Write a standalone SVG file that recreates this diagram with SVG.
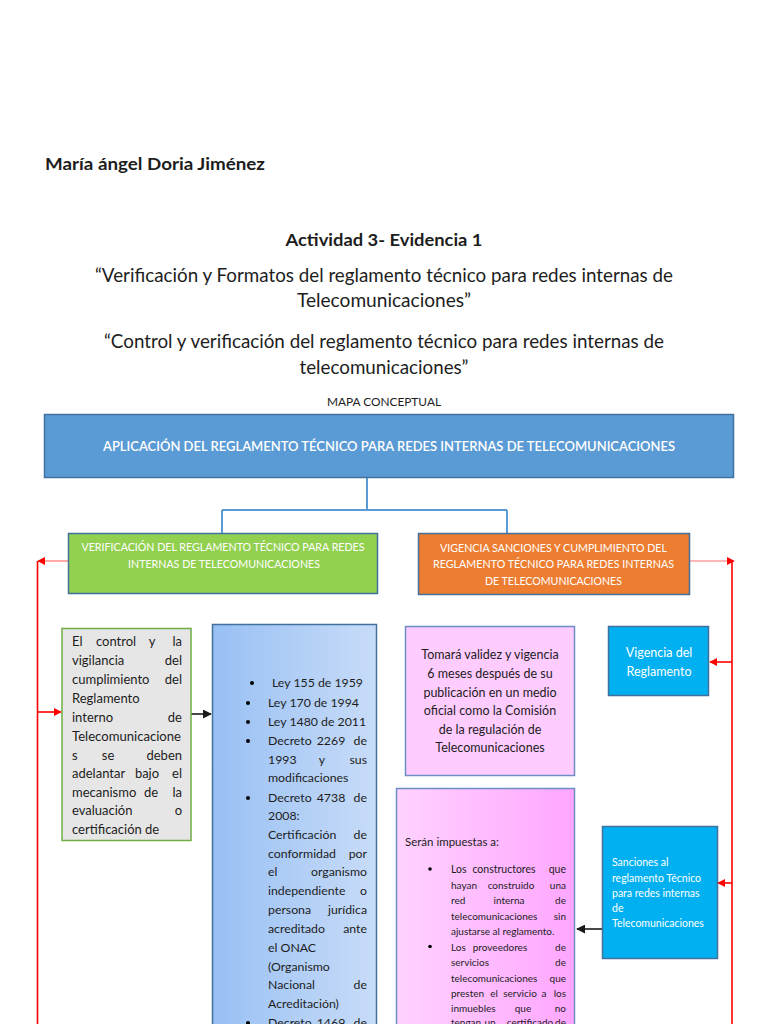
<svg xmlns="http://www.w3.org/2000/svg" width="768" height="1024" viewBox="0 0 768 1024">
<style>
text{font-family:Lato,"Liberation Sans",sans-serif;fill:#1d1d1d}
.hdr{font-size:19px}
.bold{font-weight:bold}
.w{fill:#ffffff}
.cap11{font-size:11px}
.g13{font-size:13px}
.g12{font-size:12.3px}
.p10{font-size:10px}
.e{text-anchor:end}
.m{text-anchor:middle}
.red{stroke:#ff0000;stroke-width:1.6;fill:none}
.redl{stroke:#ff7070;stroke-width:1.2;fill:none}
.blk{stroke:#1a1a1a;stroke-width:1.6;fill:none}
.bl{stroke:#5b9bd5;stroke-width:2;fill:none}
</style>
<defs>
<marker id="ar" viewBox="0 0 10 10" refX="9" refY="5" markerWidth="8" markerHeight="8" markerUnits="userSpaceOnUse" orient="auto"><path d="M0,0 L10,5 L0,10 z" fill="#ff0000"/></marker>
<marker id="ab" viewBox="0 0 10 10" refX="9" refY="5" markerWidth="9" markerHeight="9" markerUnits="userSpaceOnUse" orient="auto"><path d="M0,0 L10,5 L0,10 z" fill="#1a1a1a"/></marker>
<linearGradient id="gblue" x1="0" y1="0" x2="1" y2="0"><stop offset="0" stop-color="#98c0f4"/><stop offset="1" stop-color="#c8dcf8"/></linearGradient>
<linearGradient id="gpink" x1="0" y1="0" x2="1" y2="0"><stop offset="0" stop-color="#ffd2ff"/><stop offset="1" stop-color="#ffa6ff"/></linearGradient>
</defs>
<rect width="768" height="1024" fill="#ffffff"/>

<g id="header">
<text x="45" y="170" class="bold" font-size="17" textLength="220" lengthAdjust="spacingAndGlyphs">María ángel Doria Jiménez</text>
<text x="384" y="246" class="bold m" font-size="17" textLength="197" lengthAdjust="spacingAndGlyphs">Actividad 3- Evidencia 1</text>
<text x="384" y="282" class="hdr m" textLength="578" lengthAdjust="spacingAndGlyphs">“Verificación y Formatos del reglamento técnico para redes internas de</text>
<text x="384" y="307" class="hdr m" textLength="174" lengthAdjust="spacingAndGlyphs">Telecomunicaciones”</text>
<text x="384" y="348" class="hdr m" textLength="560" lengthAdjust="spacingAndGlyphs">“Control y verificación del reglamento técnico para redes internas de</text>
<text x="384" y="374" class="hdr m" textLength="169" lengthAdjust="spacingAndGlyphs">telecomunicaciones”</text>
<text x="384" y="406" class="m" font-size="11" textLength="114" lengthAdjust="spacingAndGlyphs">MAPA CONCEPTUAL</text>
</g>

<g id="connectors">
<path class="bl" d="M367,477 V510 M222,510 H507 M222,510 V533 M507,510 V533"/>
<path class="redl" d="M68,561 H38" marker-end="url(#ar)"/>
<path class="red" d="M37.5,561 V1024"/>
<path class="red" d="M37.5,712 H61" marker-end="url(#ar)"/>
<path class="redl" d="M689,561 H734" marker-end="url(#ar)"/>
<path class="red" d="M732,561 V1024"/>
<path class="red" d="M732,662 H710" marker-end="url(#ar)"/>
<path class="red" d="M732,883 H718" marker-end="url(#ar)"/>
<path class="blk" d="M191,714 H211" marker-end="url(#ab)"/>
<path class="blk" d="M602,929 H577" marker-end="url(#ab)"/>
</g>

<g id="n-aplicacion">
<rect x="44.5" y="414.5" width="689" height="63" fill="#5b9bd5" stroke="#41719c" stroke-width="1.5"/>
<text x="389" y="450.5" class="w m" font-size="13" font-weight="600" textLength="572" lengthAdjust="spacingAndGlyphs">APLICACIÓN DEL REGLAMENTO TÉCNICO PARA REDES INTERNAS DE TELECOMUNICACIONES</text>
</g>

<g id="n-verificacion">
<rect x="68.5" y="533.5" width="309" height="60" fill="#92d050" stroke="#41719c" stroke-width="1.5"/>
<text x="223" y="551" class="w m cap11" textLength="283" lengthAdjust="spacingAndGlyphs">VERIFICACIÓN DEL REGLAMENTO TÉCNICO PARA REDES</text>
<text x="224" y="568" class="w m cap11" textLength="192" lengthAdjust="spacingAndGlyphs">INTERNAS DE TELECOMUNICACIONES</text>
</g>

<g id="n-vigencia-sanciones">
<rect x="418.5" y="533.5" width="271" height="61" fill="#ed7d31" stroke="#41719c" stroke-width="1.5"/>
<text x="553.5" y="552" class="w m cap11" textLength="227" lengthAdjust="spacingAndGlyphs">VIGENCIA SANCIONES Y CUMPLIMIENTO DEL</text>
<text x="553.5" y="568" class="w m cap11" textLength="241" lengthAdjust="spacingAndGlyphs">REGLAMENTO TÉCNICO PARA REDES INTERNAS</text>
<text x="553.5" y="585" class="w m cap11" textLength="137" lengthAdjust="spacingAndGlyphs">DE TELECOMUNICACIONES</text>
</g>

<g id="n-control" class="g13">
<rect x="62" y="628.5" width="129" height="212" fill="#e7e6e6" stroke="#70ad47" stroke-width="1.5"/>
<text x="72" y="646">El</text><text x="96" y="646">control</text><text x="152" y="646" class="m">y</text><text x="182" y="646" class="e">la</text>
<text x="72" y="665">vigilancia</text><text x="182" y="665" class="e">del</text>
<text x="72" y="684">cumplimiento</text><text x="182" y="684" class="e">del</text>
<text x="72" y="703">Reglamento</text>
<text x="72" y="722">interno</text><text x="182" y="722" class="e">de</text>
<text x="72" y="741" textLength="109" lengthAdjust="spacingAndGlyphs">Telecomunicacione</text>
<text x="72" y="760">s</text><text x="108" y="760" class="m">se</text><text x="182" y="760" class="e">deben</text>
<text x="72" y="778">adelantar</text><text x="147" y="778" class="m">bajo</text><text x="182" y="778" class="e">el</text>
<text x="72" y="797">mecanismo</text><text x="151" y="797" class="m">de</text><text x="182" y="797" class="e">la</text>
<text x="72" y="815">evaluación</text><text x="182" y="815" class="e">o</text>
<text x="72" y="834">certificación de</text>
</g>

<g id="n-leyes" class="g12">
<rect x="212.5" y="624.5" width="164" height="410" fill="url(#gblue)" stroke="#41719c" stroke-width="1.5"/>
<circle cx="252" cy="683" r="2"/>
<text x="272" y="687">Ley 155 de 1959</text>
<circle cx="248" cy="703" r="2"/>
<text x="268" y="707">Ley 170 de 1994</text>
<circle cx="248" cy="722" r="2"/>
<text x="268" y="726">Ley 1480 de 2011</text>
<circle cx="248" cy="741" r="2"/>
<text x="268" y="745">Decreto</text><text x="331" y="745" class="m">2269</text><text x="367" y="745" class="e">de</text>
<text x="268" y="764">1993</text><text x="322" y="764" class="m">y</text><text x="367" y="764" class="e">sus</text>
<text x="268" y="782">modificaciones</text>
<circle cx="248" cy="798" r="2"/>
<text x="268" y="802">Decreto</text><text x="331" y="802" class="m">4738</text><text x="367" y="802" class="e">de</text>
<text x="268" y="820">2008:</text>
<text x="268" y="839">Certificación</text><text x="367" y="839" class="e">de</text>
<text x="268" y="858">conformidad</text><text x="367" y="858" class="e">por</text>
<text x="268" y="876">el</text><text x="367" y="876" class="e">organismo</text>
<text x="268" y="895">independiente</text><text x="367" y="895" class="e">o</text>
<text x="268" y="914">persona</text><text x="367" y="914" class="e">jurídica</text>
<text x="268" y="933">acreditado</text><text x="367" y="933" class="e">ante</text>
<text x="268" y="952">el ONAC</text>
<text x="268" y="971">(Organismo</text>
<text x="268" y="989">Nacional</text><text x="367" y="989" class="e">de</text>
<text x="268" y="1008">Acreditación)</text>
<circle cx="248" cy="1023" r="2"/>
<text x="268" y="1027">Decreto</text><text x="331" y="1027" class="m">1469</text><text x="367" y="1027" class="e">de</text>
</g>

<g id="n-tomara">
<rect x="405.5" y="626.5" width="169" height="149" fill="#ffccff" stroke="#6d8ec4" stroke-width="1.5"/>
<text x="490" y="658.5" class="m" font-size="12.5">Tomará validez y vigencia</text>
<text x="490" y="677.5" class="m" font-size="12.5">6 meses después de su</text>
<text x="490" y="696.5" class="m" font-size="12.5">publicación en un medio</text>
<text x="490" y="715" class="m" font-size="12.5">oficial como la Comisión</text>
<text x="490" y="733.5" class="m" font-size="12.5">de la regulación de</text>
<text x="490" y="752" class="m" font-size="12.5">Telecomunicaciones</text>
</g>

<g id="n-vigencia">
<rect x="608.5" y="626.5" width="100" height="69" fill="#00b0f0" stroke="#41719c" stroke-width="1.5"/>
<text x="659" y="657" class="w m" font-size="12.5">Vigencia del</text>
<text x="659" y="675.5" class="w m" font-size="12.5">Reglamento</text>
</g>

<g id="n-seran" class="p10">
<rect x="396.5" y="788.5" width="178" height="246" fill="url(#gpink)" stroke="#6d8ec4" stroke-width="1.5"/>
<text x="405" y="846" font-size="11.5">Serán impuestas a:</text>
<circle cx="430" cy="869" r="1.8"/>
<text x="451" y="873" font-size="10.5">Los</text><text x="504" y="873" class="m" font-size="10.5">constructores</text><text x="566" y="873" class="e" font-size="10.5">que</text>
<text x="451" y="888.5">hayan</text><text x="511" y="888.5" class="m">construido</text><text x="566" y="888.5" class="e">una</text>
<text x="451" y="904">red</text><text x="509" y="904" class="m">interna</text><text x="566" y="904" class="e">de</text>
<text x="451" y="919.5">telecomunicaciones</text><text x="566" y="919.5" class="e">sin</text>
<text x="451" y="935">ajustarse al reglamento.</text>
<circle cx="430" cy="946.5" r="1.8"/>
<text x="451" y="950.5">Los</text><text x="500" y="950.5" class="m">proveedores</text><text x="566" y="950.5" class="e">de</text>
<text x="451" y="966">servicios</text><text x="566" y="966" class="e">de</text>
<text x="451" y="981.5">telecomunicaciones</text><text x="566" y="981.5" class="e">que</text>
<text x="451" y="997">presten</text><text x="494" y="997" class="m">el</text><text x="520" y="997" class="m">servicio</text><text x="544" y="997" class="m">a</text><text x="566" y="997" class="e">los</text>
<text x="451" y="1012">inmuebles</text><text x="523" y="1012" class="m">que</text><text x="566" y="1012" class="e">no</text>
<text x="451" y="1025.5">tengan</text><text x="490" y="1025.5" class="m">un</text><text x="530" y="1025.5" class="m">certificado</text><text x="566" y="1025.5" class="e">de</text>
</g>

<g id="n-sanciones" font-size="10.5">
<rect x="602.5" y="826.5" width="115" height="132" fill="#00b0f0" stroke="#41719c" stroke-width="1.5"/>
<text x="612" y="865.5" class="w" font-size="10.5">Sanciones al</text>
<text x="612" y="881.5" class="w" font-size="10.5">reglamento Técnico</text>
<text x="612" y="897" class="w" font-size="10.5">para redes internas</text>
<text x="612" y="911.5" class="w" font-size="10.5">de</text>
<text x="612" y="927" class="w" font-size="10.5">Telecomunicaciones</text>
</g>
</svg>
